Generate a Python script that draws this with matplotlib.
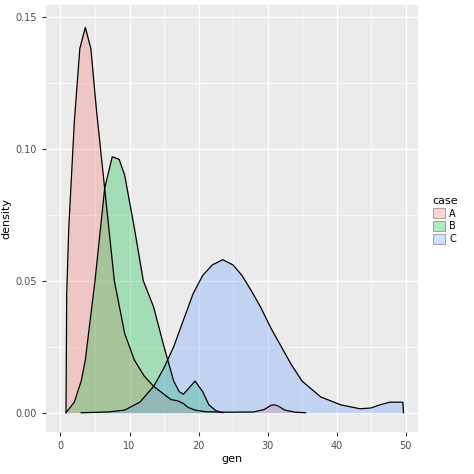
import matplotlib
matplotlib.use("Agg")
import matplotlib.pyplot as plt
from matplotlib.patches import Patch

cases = ["A", "B", "C"]
colors = ["#F8766D", "#00BA38", "#619CFF"]

a_x = [0.8, 0.9, 1.2, 2.0, 2.8, 3.6, 4.4, 5.2, 6.4, 7.8, 9.3, 10.7, 12.1, 13.5, 15.0, 16.0, 17.0, 17.8, 18.5, 19.5, 21, 24, 28, 29.5, 30.5, 31.0, 31.5, 32.5, 34, 35.5]
a_y = [0.0, 0.045, 0.07, 0.11, 0.138, 0.146, 0.138, 0.115, 0.085, 0.05, 0.03, 0.02, 0.014, 0.01, 0.007, 0.005, 0.0045, 0.0035, 0.002, 0.001, 0.0004, 0.0002, 0.0003, 0.0012, 0.0028, 0.003, 0.0026, 0.001, 0.0002, 0.0]

b_x = [0.8, 2.0, 3.0, 3.6, 5.0, 6.4, 7.5, 8.5, 9.3, 10.0, 10.7, 12.0, 13.5, 15.0, 16.4, 17.2, 17.8, 18.5, 19.5, 20.6, 21.5, 22.5, 23.5]
b_y = [0.0, 0.004, 0.012, 0.02, 0.05, 0.085, 0.097, 0.096, 0.09, 0.08, 0.07, 0.05, 0.04, 0.025, 0.012, 0.008, 0.007, 0.009, 0.012, 0.008, 0.003, 0.0008, 0.0]

c_x = [3.0, 7.0, 9.3, 11.5, 13.5, 15.0, 16.4, 17.8, 19.2, 20.6, 22.0, 23.5, 25.0, 26.3, 27.7, 29.0, 30.5, 32.0, 33.5, 35.0, 37.7, 40.6, 43.4, 45.0, 46.3, 47.7, 49.0, 49.6, 49.7]
c_y = [0.0, 0.0003, 0.001, 0.004, 0.01, 0.017, 0.025, 0.035, 0.045, 0.052, 0.056, 0.058, 0.056, 0.052, 0.046, 0.04, 0.032, 0.025, 0.018, 0.012, 0.006, 0.003, 0.0015, 0.0018, 0.003, 0.004, 0.004, 0.004, 0.0]

series = [(a_x, a_y), (b_x, b_y), (c_x, c_y)]

fig = plt.figure(figsize=(4.74, 4.74), dpi=100)
ax = fig.add_axes([46/474, 42/474, 372/474, 427/474])
ax.set_facecolor("#EBEBEB")
for (xs, ys), col in zip(series, colors):
    ax.fill_between(xs, ys, 0, color=col, alpha=0.3, linewidth=0, zorder=2)
    ax.plot(xs, ys, color="black", linewidth=0.9, zorder=3)
ax.set_xlim(-2.1, 51.8)
ax.set_ylim(-0.0073, 0.1545)
ax.set_xticks([0, 10, 20, 30, 40, 50])
ax.set_yticks([0.0, 0.05, 0.10, 0.15])
ax.set_yticklabels(["0.00", "0.05", "0.10", "0.15"])
ax.set_xticks([5, 15, 25, 35, 45], minor=True)
ax.set_yticks([0.025, 0.075, 0.125], minor=True)
ax.grid(True, which="major", color="white", linewidth=1.0, zorder=0)
ax.grid(True, which="minor", color="white", linewidth=0.5, zorder=0)
ax.set_axisbelow(True)
for s in ax.spines.values():
    s.set_visible(False)
ax.tick_params(which="major", length=3, color="#333333", labelsize=7, labelcolor="#4D4D4D")
ax.tick_params(which="minor", length=0)
ax.set_xlabel("gen", fontsize=8, labelpad=2)
ax.set_ylabel("density", fontsize=8, labelpad=3)

handles = [Patch(facecolor=c, alpha=0.3, edgecolor="black", linewidth=0.8) for c in colors]
leg = fig.legend(handles, cases, title="case", loc="upper left", bbox_to_anchor=(428/474, 283/474),
                 frameon=False, fontsize=7, title_fontsize=8, handlelength=1.2, handleheight=1.2,
                 labelspacing=0.25, handletextpad=0.5, borderpad=0)
leg._legend_box.align = "left"
fig.savefig("out.png", dpi=100)
